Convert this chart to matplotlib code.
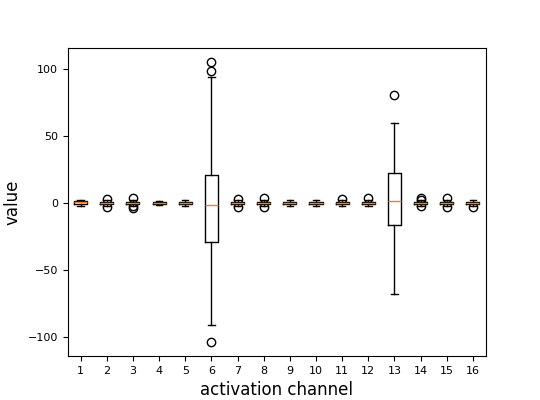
import matplotlib
matplotlib.use('Agg')
import matplotlib.pyplot as plt

channels = list(range(1, 17))
med   = [0.5, 0.0, 0.0, 0.0, 0.0, -1.5, 0.0, 0.0, 0.0, 0.0, 0.0, 0.0, 1.5, 0.0, 0.0, 0.0]
q1    = [-0.8, -0.7, -0.8, -0.5, -0.5, -29.1, -0.7, -0.7, -0.6, -0.6, -0.6, -0.7, -16.4, -0.6, -0.7, -0.7]
q3    = [1.2, 0.7, 0.8, 0.5, 0.5, 20.9, 0.7, 0.7, 0.6, 0.6, 0.6, 0.7, 22.4, 0.6, 0.7, 0.7]
whilo = [-2.5, -2.0, -2.0, -1.5, -2.0, -91.0, -2.0, -2.0, -2.0, -2.0, -2.0, -2.0, -67.9, -2.0, -2.0, -2.0]
whihi = [2.5, 2.0, 2.0, 1.5, 2.5, 94.0, 2.0, 2.0, 2.0, 2.0, 2.0, 2.0, 59.7, 2.0, 2.0, 2.0]
fliers = [[], [3.0, -2.8], [4.0, -2.5, -3.5], [], [], [105.2, 98.5, -103.7],
          [3.0, -3.0], [4.0, -3.0], [], [], [3.0], [4.0], [80.6],
          [3.5, 2.5, -2.5], [4.0, -3.0], [-3.0]]

stats = []
for i in range(len(channels)):
    stats.append(dict(med=med[i], q1=q1[i], q3=q3[i], whislo=whilo[i],
                      whishi=whihi[i], fliers=fliers[i]))

fig, ax = plt.subplots(figsize=(5.4, 4), dpi=100)
ax.bxp(stats, positions=channels)
ax.set_xticks(channels)
ax.set_xticklabels([str(c) for c in channels])
ax.tick_params(labelsize=8)
ax.set_xlabel('activation channel', fontsize=12)
ax.set_ylabel('value', fontsize=12)
plt.savefig('out.png')
